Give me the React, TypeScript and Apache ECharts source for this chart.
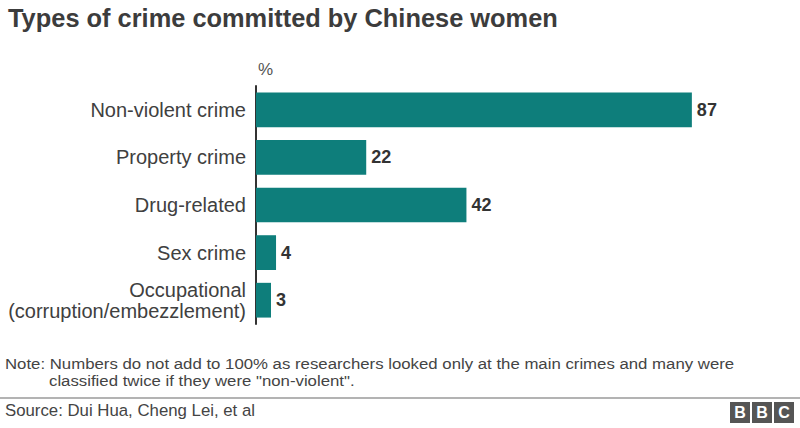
import React, { useEffect, useRef } from "react";
import * as echarts from "echarts";

const categories = [
  "Non-violent crime",
  "Property crime",
  "Drug-related",
  "Sex crime",
  "Occupational\n(corruption/embezzlement)",
];
const values = [87, 22, 42, 4, 3];

const titleText = "Types of crime committed by Chinese women";
const noteLine1 = "Note: Numbers do not add to 100% as researchers looked only at the main crimes and many were";
const noteLine2 = "classified twice if they were \"non-violent\".";
const sourceText = "Source: Dui Hua, Cheng Lei, et al";
const unitText = "%";

const FONT = "'Liberation Sans', Arial, Helvetica, sans-serif";
const TEAL = "#0e7e7b";

export default function App() {
  const ref = useRef<HTMLDivElement>(null);
  useEffect(() => {
    if (!ref.current) return;
    const chart = echarts.init(ref.current, undefined, { renderer: "svg" });
    const logoLetters = ["B", "B", "C"];
    chart.setOption({
      animation: false,
      backgroundColor: "#ffffff",
      grid: { left: 256, right: 43, top: 86, bottom: 104, containLabel: false },
      xAxis: {
        type: "value",
        min: 0,
        max: 100,
        show: false,
      },
      yAxis: {
        type: "category",
        inverse: true,
        data: categories,
        axisLine: { show: true, lineStyle: { color: "#333", width: 2 } },
        axisTick: { show: false },
        axisLabel: {
          color: "#404040",
          fontSize: 20,
          fontFamily: FONT,
          margin: 10,
          lineHeight: 21,
          align: "right",
        },
      },
      series: [
        {
          type: "bar",
          data: values,
          barCategoryGap: "27%",
          itemStyle: { color: TEAL },
          label: {
            show: true,
            position: "right",
            distance: 5,
            color: "#333",
            fontSize: 18,
            fontWeight: "bold",
            fontFamily: FONT,
          },
        },
      ],
      graphic: [
        {
          type: "text",
          left: 8,
          top: 5,
          style: { text: titleText, fill: "#3c3c3c", font: `bold 25.4px ${FONT}` },
        },
        {
          type: "text",
          left: 258,
          top: 61,
          style: { text: unitText, fill: "#555", font: `17px ${FONT}` },
        },
        {
          type: "text",
          x: 5,
          y: 363.5,
          scaleX: 1.15,
          style: { text: noteLine1, fill: "#444", font: `14.6px ${FONT}`, verticalAlign: "middle" },
        },
        {
          type: "text",
          x: 49,
          y: 380.5,
          scaleX: 1.15,
          style: { text: noteLine2, fill: "#444", font: `14.6px ${FONT}`, verticalAlign: "middle" },
        },
        {
          type: "line",
          shape: { x1: 0, y1: 398, x2: 800, y2: 398 },
          style: { stroke: "#9a9a9a", lineWidth: 1.5 },
        },
        {
          type: "text",
          left: 5,
          top: 402,
          style: { text: sourceText, fill: "#444", font: `16.8px ${FONT}` },
        },
        ...logoLetters.flatMap((l, i) => [
          {
            type: "rect",
            shape: { x: 730 + i * 22, y: 402, width: 20, height: 21 },
            style: { fill: "#555" },
          },
          {
            type: "text",
            x: 740 + i * 22,
            y: 412.5,
            style: {
              text: l,
              fill: "#fff",
              font: `bold 16px ${FONT}`,
              align: "center",
              verticalAlign: "middle",
            },
          },
        ]),
      ],
    });
    return () => chart.dispose();
  }, []);
  return <div ref={ref} style={{ width: 800, height: 428, position: "absolute", left: 0, top: 0 }} />;
}
